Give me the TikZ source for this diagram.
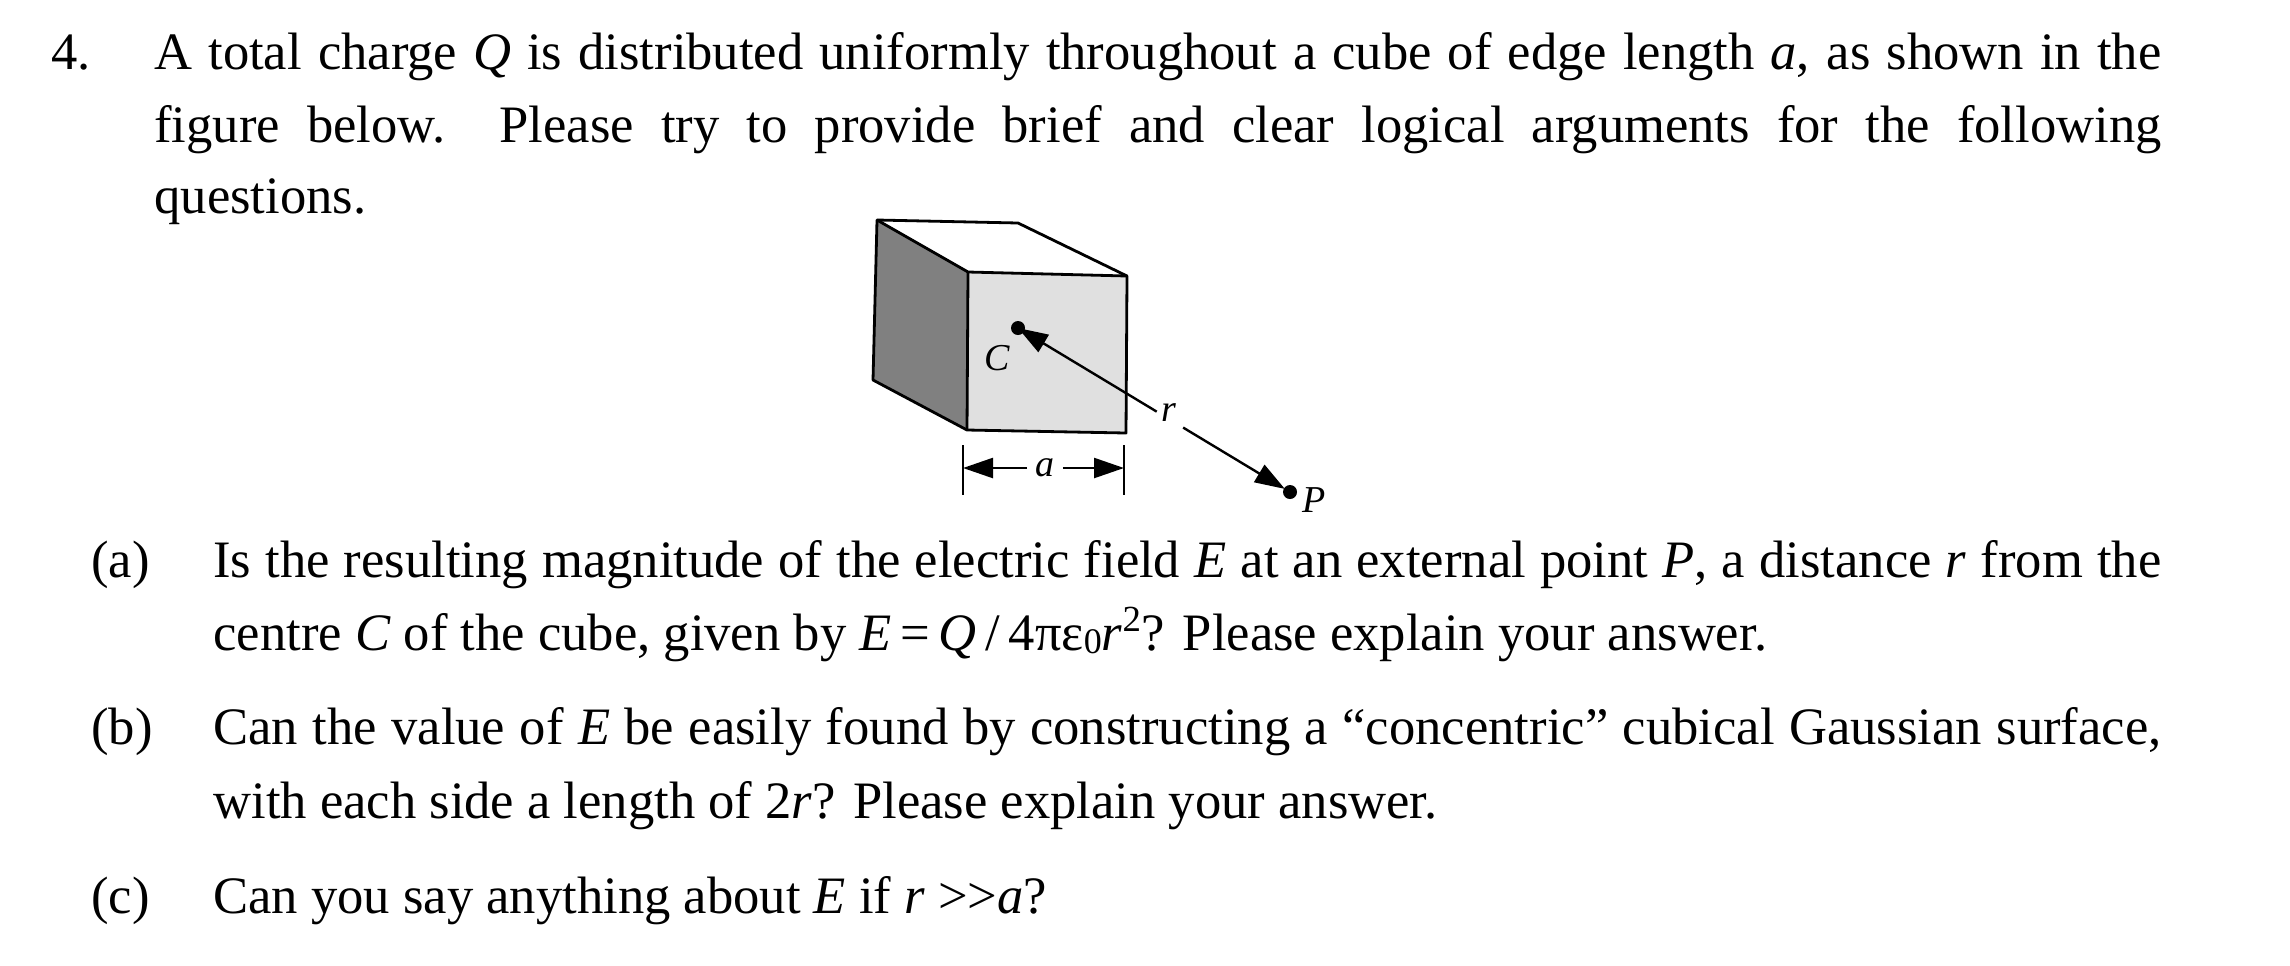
\documentclass[tikz,border=0pt]{standalone}
\usepackage{fontspec}
\setmainfont{Liberation Serif}[Ligatures=NoCommon]
\usetikzlibrary{arrows.meta,calc}
\tikzset{
  txt/.style={anchor=base west,inner sep=0pt,font=\fontsize{26.3pt}{30pt}\selectfont},
  lbl/.style={inner sep=0pt,font=\fontsize{19pt}{22pt}\selectfont\itshape},
  edge/.style={line width=1.4pt,line join=round},
  big/.style={-{Triangle[length=15pt,width=10pt]},line width=1.2pt},
  dot/.style={circle,fill=black,inner sep=0pt,minimum size=7pt}
}
\newcommand{\jline}[1]{\makebox[1003.5pt][s]{#1}}
\newcommand{\kline}[1]{\makebox[974pt][s]{#1}}
\begin{document}
\begin{tikzpicture}[x=0.5pt,y=-0.5pt]
\useasboundingbox (0,0) rectangle (2290,965);
\fill[white] (0,0) rectangle (2290,965);
% text
\node[txt] (n4) at (51,69) {4.};
\node[txt] (l1) at (154,69) {\jline{A total charge \textit{Q} is distributed uniformly throughout a cube of edge length \textit{a}, as shown in the}};
\node[txt] (l2) at (154,142) {\jline{figure below.\ \ Please try to provide brief and clear logical arguments for the following}};
\node[txt] (l3) at (154,213) {questions.};
\node[txt] (la) at (91,577) {(a)};
\node[txt] (a1) at (213,577) {\kline{Is the resulting magnitude of the electric field \textit{E} at an external point \textit{P}, a distance \textit{r} from the}};
\node[txt] (a2) at (213,650) {centre \textit{C} of the cube, given by \textit{E}\,=\,\textit{Q}\,/\,4πε\raisebox{-0.15ex}{\fontsize{18pt}{19pt}\selectfont 0}\textit{r}\textsuperscript{2}? Please explain your answer.};
\node[txt] (lb) at (91,744) {(b)};
\node[txt] (b1) at (213,744) {\kline{Can the value of \textit{E} be easily found by constructing a “concentric” cubical Gaussian surface,}};
\node[txt] (b2) at (213,818) {with each side a length of 2\textit{r}? Please explain your answer.};
\node[txt] (lc) at (91,913) {(c)};
\node[txt] (c1) at (213,913) {Can you say anything about \textit{E} if \textit{r} {>}{>}\textit{a}?};
% cube
\coordinate (btl) at (877,220);
\coordinate (btr) at (1018,223);
\coordinate (ftl) at (968,272);
\coordinate (ftr) at (1127,276);
\coordinate (fbl) at (967,430);
\coordinate (fbr) at (1126,433);
\coordinate (bbl) at (873,380);
\fill[black!50] (btl) -- (ftl) -- (fbl) -- (bbl) -- cycle;
\fill[black!12] (ftl) -- (ftr) -- (fbr) -- (fbl) -- cycle;
\draw[edge] (btl) -- (btr) -- (ftr) -- (fbr) -- (fbl) -- (bbl) -- cycle;
\draw[edge] (btl) -- (ftl) -- (ftr);
\draw[edge] (ftl) -- (fbl);
% C and P
\node[dot] (C) at (1018,328) {};
\node[dot] (P) at (1290,492) {};
\node[lbl] (Cl) at (997,358) {C};
\node[lbl,anchor=west] (Pl) at (1302,500) {P};
\coordinate (g1) at ($(C)!0.51!(P)$);
\coordinate (g2) at ($(C)!0.607!(P)$);
\node[lbl] (rl) at ($(C)!0.555!(P)+(0,-6)$) {r};
\draw[big] (g1) -- (C.center);
\draw[big] (g2) -- ($(P.center)!3pt!(C.center)$);
% dimension a
\coordinate (t1a) at (963,445); \coordinate (t1b) at (963,495);
\coordinate (t2a) at (1124,445); \coordinate (t2b) at (1124,495);
\draw[line width=1.2pt] (t1a) -- (t1b);
\draw[line width=1.2pt] (t2a) -- (t2b);
\node[lbl] (al) at (1045,468) {a};
\coordinate (dl) at (963,468); \coordinate (dr) at (1124,468);
\draw[big] (al.west) ++(-8,0) -- (dl);
\draw[big] (al.east) ++(8,0) -- (dr);
\end{tikzpicture}
\end{document}
